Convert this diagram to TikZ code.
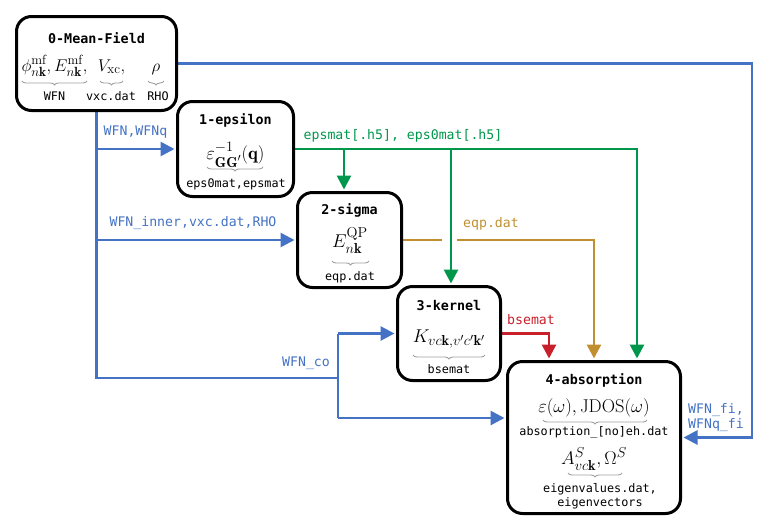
\documentclass[tikz,border=0pt]{standalone}
\usepackage{fix-cm}
\usepackage{amsmath}
\usepackage{fontspec}
\setmonofont{DejaVu Sans Mono}
\DeclareMathSizes{17}{17}{13.3}{10}
\DeclareMathSizes{18.5}{18.5}{14.4}{11}
\usetikzlibrary{arrows.meta,decorations.pathreplacing}
\pgfdeclarelayer{bg}
\pgfsetlayers{bg,main}
\definecolor{cblue}{HTML}{4472C4}
\definecolor{cgreen}{HTML}{00964B}
\definecolor{cgold}{HTML}{C09030}
\definecolor{cred}{HTML}{C8202A}
\definecolor{cbrace}{HTML}{A0A0A0}
\begin{document}
\begin{tikzpicture}[x=1pt,y=-1pt,
  box/.style={draw=black,line width=3pt,rounded corners=15pt,fill=white,inner sep=0pt},
  ttl/.style={font=\fontsize{13.4}{15}\selectfont\ttfamily\bfseries,inner sep=0pt},
  fl/.style={font=\fontsize{11.8}{14.5}\selectfont\ttfamily,inner sep=0pt},
  el/.style={font=\fontsize{13.2}{15.5}\selectfont\ttfamily,inner sep=0pt},
  mth/.style={font=\fontsize{18.5}{20}\selectfont,inner sep=0pt,anchor=base},
  mths/.style={font=\fontsize{17}{19}\selectfont,inner sep=0pt,anchor=base},
  brc/.style={draw=cbrace,line width=0.9pt,decorate,decoration={brace,mirror,amplitude=4pt}},
  wire/.style={line width=2.8pt},
  conn/.style={wire,shorten >=1.5pt,-{Triangle[length=14pt,width=14pt]}},
]
\useasboundingbox (0,0) rectangle (769,523);

% boxes
\node[box,minimum width=160pt,minimum height=94pt] (mf) at (96.5,63.5) {};
\node[box,minimum width=116pt,minimum height=95pt] (eps) at (235.5,149) {};
\node[box,minimum width=104pt,minimum height=95pt] (sig) at (349.5,240) {};
\node[box,minimum width=103pt,minimum height=94pt] (ker) at (449,333.5) {};
\node[box,minimum width=173pt,minimum height=152pt] (abs) at (594,437.5) {};

% 0-Mean-Field
\node[ttl] (mfT) at (96.5,38) {0-Mean-Field};
\node[mths] (mfM1) at (54.5,71) {$\phi^{\mathrm{mf}}_{n\mathbf{k}},E^{\mathrm{mf}}_{n\mathbf{k}},$};
\node[mths] (mfM2) at (111.5,71) {$V_{\mathrm{xc}},$};
\node[mths] (mfM3) at (156,71) {$\rho$};
\draw[brc] (22,81) -- (87,81);
\draw[brc] (100,81) -- (123,81);
\draw[brc] (148,81) -- (164,81);
\node[fl] (mfL1) at (54.5,96) {WFN};
\node[fl] (mfL2) at (111,96) {vxc.dat};
\node[fl] (mfL3) at (158,96) {RHO};

% 1-epsilon
\node[ttl] (epsT) at (235.5,120) {1-epsilon};
\node[mth] (epsM) at (235.5,159) {$\varepsilon^{-1}_{\mathbf{GG}'}\mathbf{(q)}$};
\draw[brc] (207,167) -- (263,167);
\node[fl] (epsL) at (236,184) {eps0mat,epsmat};

% 2-sigma
\node[ttl] (sigT) at (349.5,210) {2-sigma};
\node[mth] (sigM) at (350,247) {$E^{\mathrm{QP}}_{n\mathbf{k}}$};
\draw[brc] (332,261) -- (369,261);
\node[fl] (sigL) at (350,277) {eqp.dat};

% 3-kernel
\node[ttl] (kerT) at (449,305) {3-kernel};
\node[mth] (kerM) at (449,342) {$K_{vc\mathbf{k},v'c'\mathbf{k}'}$};
\draw[brc] (413,355) -- (485,355);
\node[fl] (kerL) at (449,369) {bsemat};

% 4-absorption
\node[ttl] (absT) at (594,380) {4-absorption};
\node[mth] (absM1) at (594,412) {$\varepsilon(\omega),\mathrm{JDOS}(\omega)$};
\draw[brc] (543,420) -- (647,420);
\node[fl] (absL1) at (594,432) {absorption\_[no]eh.dat};
\node[mth] (absM2) at (594,464) {$A^{S}_{vc\mathbf{k}},\Omega^{S}$};
\draw[brc] (568,473) -- (622,473);
\node[fl,align=center] (absL2) at (600,496) {eigenvalues.dat,\\eigenvectors};

% edge labels
\node[el,text=cblue] (lWq) at (135.5,132) {WFN,WFNq};
\node[el,text=cblue] (lWi) at (193,223) {WFN\_inner,vxc.dat,RHO};
\node[el,text=cblue] (lWc) at (306,363) {WFN\_co};
\node[el,text=cblue,align=left,anchor=west] (lWf) at (688,417.5) {WFN\_fi,\\WFNq\_fi};
\node[el,text=cgreen] (lEps) at (403,136) {epsmat[.h5], eps0mat[.h5]};
\node[el,text=cgold] (lEqp) at (491,224) {eqp.dat};
\node[el,text=cred] (lBse) at (531,320) {bsemat};

\begin{pgfonlayer}{bg}
% blue
\coordinate (bTR) at (752,63.5);
\draw[conn,cblue] (mf.east) -- (bTR) |- (abs.east);
\coordinate (bMid) at (338,378);
\draw[wire,cblue] (mf.south) -- (mf.south |- bMid) -- (bMid);
\coordinate (bE) at (mf.south |- eps.west);
\draw[conn,cblue] (bE) -- (eps.west);
\coordinate (bS) at (mf.south |- sig.west);
\draw[conn,cblue] (bS) -- (sig.west);
\coordinate (bKt) at (338,333.5);
\coordinate (bAb) at (338,418);
\draw[wire,cblue] (bKt) -- (bAb);
\draw[conn,cblue] (bKt) -- (ker.west);
\draw[conn,cblue] (bAb) -- (bAb -| abs.west);
% gold
\coordinate (yL) at (442,240);
\coordinate (yR) at (457,240);
\coordinate (yC) at (594,240);
\draw[conn,cgold] (sig.east) -- (yL) (yR) -- (yC) -- (yC |- abs.north);
% green
\coordinate (gR) at (637,149);
\draw[conn,cgreen] (eps.east) -- (gR) -- (gR |- abs.north);
\coordinate (gA) at (344,149);
\draw[conn,cgreen] (gA) -- (gA |- sig.north);
\coordinate (gB) at (451,149);
\draw[conn,cgreen] (gB) -- (gB |- ker.north);
% red
\coordinate (rC) at (549,333.5);
\draw[conn,cred] (ker.east) -- (rC) -- (rC |- abs.north);
\end{pgfonlayer}
\end{tikzpicture}
\end{document}
